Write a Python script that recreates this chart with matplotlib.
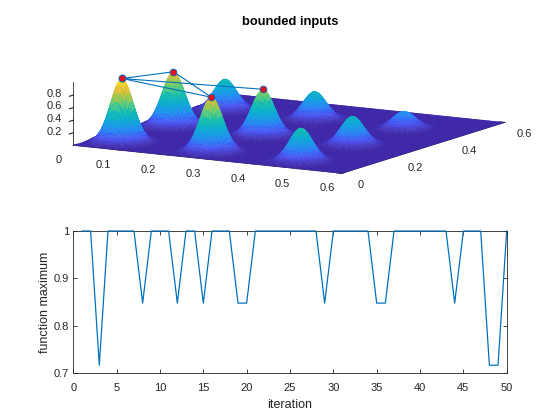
import numpy as np
import matplotlib
matplotlib.use("Agg")
import matplotlib.pyplot as plt
from matplotlib.colors import LinearSegmentedColormap

plt.rcParams['font.family'] = ['Liberation Sans', 'DejaVu Sans']

# ---- data: surface bumps (top panel) ----
bump_x = [0.06, 0.26, 0.46]
bump_y = [0.08, 0.27, 0.46]
peak_heights = [[1.00, 0.85, 0.48],
                [0.85, 0.72, 0.43],
                [0.51, 0.44, 0.26]]   # rows: bump_x index, cols: bump_y index
bump_width = 0.022
domain = [0.0, 0.6]

# sampled points connected by lines
path_x = [0.26, 0.06, 0.06, 0.26, 0.06]
path_y = [0.27, 0.08, 0.27, 0.08, 0.08]
path_z = [0.72, 1.00, 0.85, 0.85, 1.00]

x_ticks = [0, 0.1, 0.2, 0.3, 0.4, 0.5, 0.6]
x_ticklabels = ['0', '0.1', '0.2', '0.3', '0.4', '0.5', '0.6']
y_ticks = [0, 0.2, 0.4, 0.6]
y_ticklabels = ['0', '0.2', '0.4', '0.6']
z_ticks = [0.2, 0.4, 0.6, 0.8]
z_ticklabels = ['0.2', '0.4', '0.6', '0.8']

# ---- data: bottom panel ----
iterations = list(range(1, 51))
func_max = [1, 1, 0.717, 1, 1, 1, 1, 0.848, 1, 1,
            1, 0.848, 1, 1, 0.848, 1, 1, 1, 0.848, 0.848,
            1, 1, 1, 1, 1, 1, 1, 1, 0.848, 1,
            1, 1, 1, 1, 0.848, 0.848, 1, 1, 1, 1,
            1, 1, 1, 0.848, 1, 1, 1, 0.717, 0.717, 1]

parula = LinearSegmentedColormap.from_list('parula', [
    (0.00, (0.2422, 0.1504, 0.6603)),
    (0.10, (0.2810, 0.3228, 0.9579)),
    (0.20, (0.1786, 0.5289, 0.9682)),
    (0.30, (0.0900, 0.6300, 0.8900)),
    (0.40, (0.0500, 0.7000, 0.7900)),
    (0.50, (0.0900, 0.7450, 0.6900)),
    (0.60, (0.3300, 0.8000, 0.5200)),
    (0.70, (0.6000, 0.7900, 0.3300)),
    (0.80, (0.8500, 0.7500, 0.2200)),
    (0.90, (0.9900, 0.7900, 0.2000)),
    (1.00, (0.9769, 0.9839, 0.0805)),
])

fig = plt.figure(figsize=(5.6, 4.2), dpi=100)
fs = 8.0
blue = (0, 0.447, 0.741)
dark = '#262626'

# ---------------- top 3D panel ----------------
S = 300.0  # square axes size in px, centred on projected box centre
cx, cy = 285.0, 106.5
ax = fig.add_axes([(cx - S / 2) / 560, (420 - cy - S / 2) / 420, S / 560, S / 420],
                  projection='3d', computed_zorder=False)
g = np.linspace(domain[0], domain[1], 121)
X, Y = np.meshgrid(g, g)
Z = np.zeros_like(X)
for i, bx in enumerate(bump_x):
    for j, by in enumerate(bump_y):
        Z += peak_heights[i][j] * np.exp(-((X - bx) ** 2 + (Y - by) ** 2) / (2 * bump_width ** 2))

surf = ax.plot_surface(X, Y, Z, cmap=parula, vmin=Z.min(), vmax=Z.max(),
                       rstride=1, cstride=1, linewidth=0.25, antialiased=True,
                       shade=False, zorder=1)
surf.set_edgecolor('face')
surf.set_clip_on(False)
ln, = ax.plot(path_x, path_y, path_z, color=blue, lw=0.8, zorder=5)
ln.set_clip_on(False)
sc = ax.scatter(path_x, path_y, path_z, s=24, c='#e01020', edgecolors=blue, linewidths=0.6,
                depthshade=False, zorder=6)
sc.set_clip_on(False)

ax.set_proj_type('ortho')
ax.view_init(elev=10.4, azim=-60)
ax.set_xlim(domain)
ax.set_ylim(domain)
ax.set_zlim(0, Z.max())
ax.set_box_aspect((1, 1.05, 0.206), zoom=1.47)
ax.set_xticks(x_ticks)
ax.set_xticklabels(x_ticklabels)
ax.set_yticks(y_ticks)
ax.set_yticklabels(y_ticklabels)
ax.set_zticks(z_ticks)
ax.set_zticklabels([''] * len(z_ticks))
ax.zaxis.set_ticks_position('lower')
ax.grid(False)
for a in (ax.xaxis, ax.yaxis, ax.zaxis):
    a.set_pane_color((1, 1, 1, 0))
    a.line.set_color(dark)
    a.line.set_linewidth(0.6)
    a._axinfo['tick']['inward_factor'] = 0.0
    a._axinfo['tick']['outward_factor'] = 0.25
    a._axinfo['tick']['color'] = dark
ax.zaxis._axinfo['tick']['inward_factor'] = 0.3
ax.zaxis._axinfo['tick']['outward_factor'] = 0.0
ax.tick_params(labelsize=fs, colors=dark, pad=0)
ax.tick_params(axis='x', pad=2)
ax.patch.set_alpha(0)
# z tick labels placed just left of the z axis (x slightly below xmin, y = ymin)
for zv, zl in zip(z_ticks, z_ticklabels):
    t = ax.text(domain[0] - 0.026, domain[0], zv, zl, ha='right', va='center',
                fontsize=fs, color=dark)
    t.set_clip_on(False)

fig.text(290 / 560, 1 - 21.5 / 420, 'bounded inputs', ha='center', va='center',
         fontsize=9.3, fontweight='bold', color='k')

# ---------------- bottom 2D panel ----------------
ax2 = fig.add_axes([73.3 / 560, 1 - 373.3 / 420, 433.4 / 560, 142.3 / 420])
ax2.plot(iterations, func_max, color=blue, lw=0.9, zorder=3, clip_on=False)
ax2.set_xlim(0, 50)
ax2.set_ylim(0.7, 1.0)
ax2.set_xticks(range(0, 51, 5))
ax2.set_yticks([0.7, 0.8, 0.9, 1.0])
ax2.set_yticklabels(['0.7', '0.8', '0.9', '1'])
ax2.tick_params(direction='in', length=3, width=0.6, labelsize=fs, colors=dark,
                top=True, right=True)
ax2.tick_params(axis='x', pad=7)
ax2.tick_params(axis='y', pad=3)
for s in ax2.spines.values():
    s.set_linewidth(0.6)
    s.set_color(dark)
    s.set_zorder(2)
ax2.set_xlabel('iteration', fontsize=9.0, color=dark, labelpad=4)
ax2.set_ylabel('function maximum', fontsize=9.0, color=dark, labelpad=2)

fig.savefig('out.png', dpi=100)
